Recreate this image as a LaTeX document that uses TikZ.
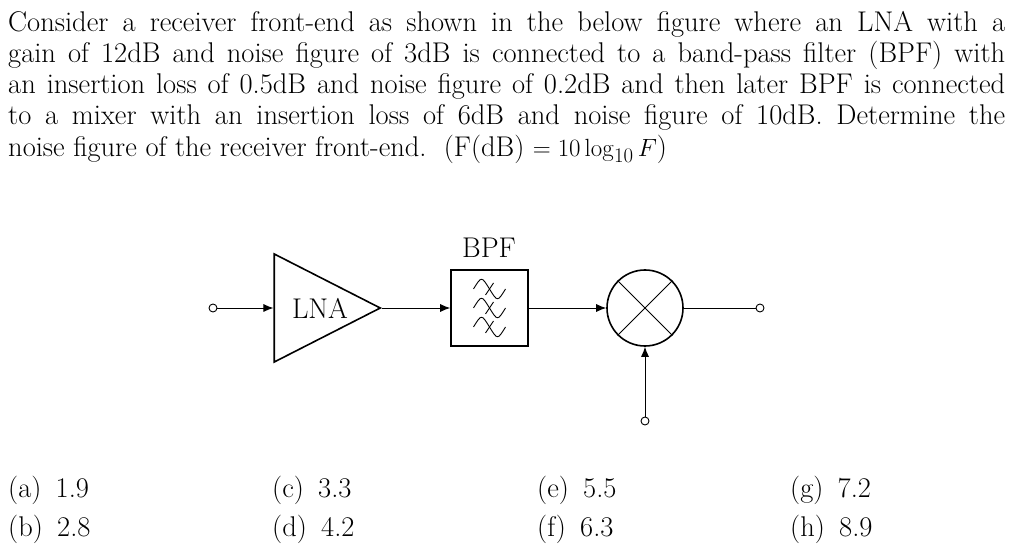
\documentclass[tikz,border=0pt]{standalone}
\usetikzlibrary{shapes.geometric,arrows.meta,calc}
\begin{document}
\begin{tikzpicture}[x=1pt,y=-1pt,
  txt/.style={anchor=base west,inner sep=0pt,font=\fontsize{28.5}{34}\selectfont},
  wire/.style={line width=0.9pt},
  arr/.style={wire,-{Latex[length=10pt,width=8pt]}},
  port/.style={circle,draw,line width=0.9pt,minimum size=8pt,inner sep=0pt},
  blk/.style={draw,line width=1.6pt}]
\useasboundingbox (0,0) rectangle (1012,553);
\node[txt] (l1) at (8,32) {\makebox[997pt][s]{Consider a receiver front-end as shown in the below figure where an LNA with a}};
\node[txt] (l2) at (8,63) {\makebox[997pt][s]{gain of 12dB and noise figure of 3dB is connected to a band-pass filter (BPF) with}};
\node[txt] (l3) at (8,94) {\makebox[997pt][s]{an insertion loss of 0.5dB and noise figure of 0.2dB and then later BPF is connected}};
\node[txt] (l4) at (8,125) {\makebox[997pt][s]{to a mixer with an insertion loss of 6dB and noise figure of 10dB. Determine the}};
\node[txt] (l5) at (8,157) {noise figure of the receiver front-end.\ \ (F(dB) $=10\log_{10}F$)};
% diagram
\node[port] (in) at (213,308) {};
\node[blk,isosceles triangle,isosceles triangle apex angle=54,minimum height=106pt,inner sep=0pt,anchor=apex] (lna) at (382,308) {};
\node[font=\fontsize{28.5}{34}\selectfont] (lnat) at (320,308) {LNA};
\node[blk,minimum width=77pt,minimum height=76pt,inner sep=0pt] (bpf) at (489.5,308) {};
\node[font=\fontsize{28.5}{34}\selectfont,anchor=base] (bpft) at (489,258) {BPF};
\foreach \dy in {-19,0,19}{
  \draw[line width=0.9pt] ($(bpf.center)+(-16,\dy)$) .. controls ++(8,-13) and ++(-8,-13) .. ++(16,0) .. controls ++(8,13) and ++(-8,13) .. ++(16,0);
  \draw[line width=0.9pt] ($(bpf.center)+(-4,\dy+6)$) -- ++(8,-12);
}
\node[blk,circle,minimum size=76pt,inner sep=0pt] (mix) at (645,308) {};
\draw[wire] (mix.45) -- (mix.225) (mix.135) -- (mix.315);
\node[port] (out) at (760,308) {};
\node[port] (lo) at (645,421) {};
\draw[arr] (in) -- (lna.left corner |- in);
\draw[arr] (lna.apex) -- (bpf.west);
\draw[arr] (bpf.east) -- (mix.west);
\draw[wire] (mix.east) -- (out);
\draw[arr] (lo) -- (mix.south);
% answers
\node[txt] (a) at (8,497) {(a)\enspace 1.9};
\node[txt] (b) at (8,536) {(b)\enspace 2.8};
\node[txt] (c) at (272,497) {(c)\enspace 3.3};
\node[txt] (d) at (272,536) {(d)\enspace 4.2};
\node[txt] (e) at (537,497) {(e)\enspace 5.5};
\node[txt] (f) at (537,536) {(f)\enspace 6.3};
\node[txt] (g) at (790,497) {(g)\enspace 7.2};
\node[txt] (h) at (790,536) {(h)\enspace 8.9};
\end{tikzpicture}
\end{document}
